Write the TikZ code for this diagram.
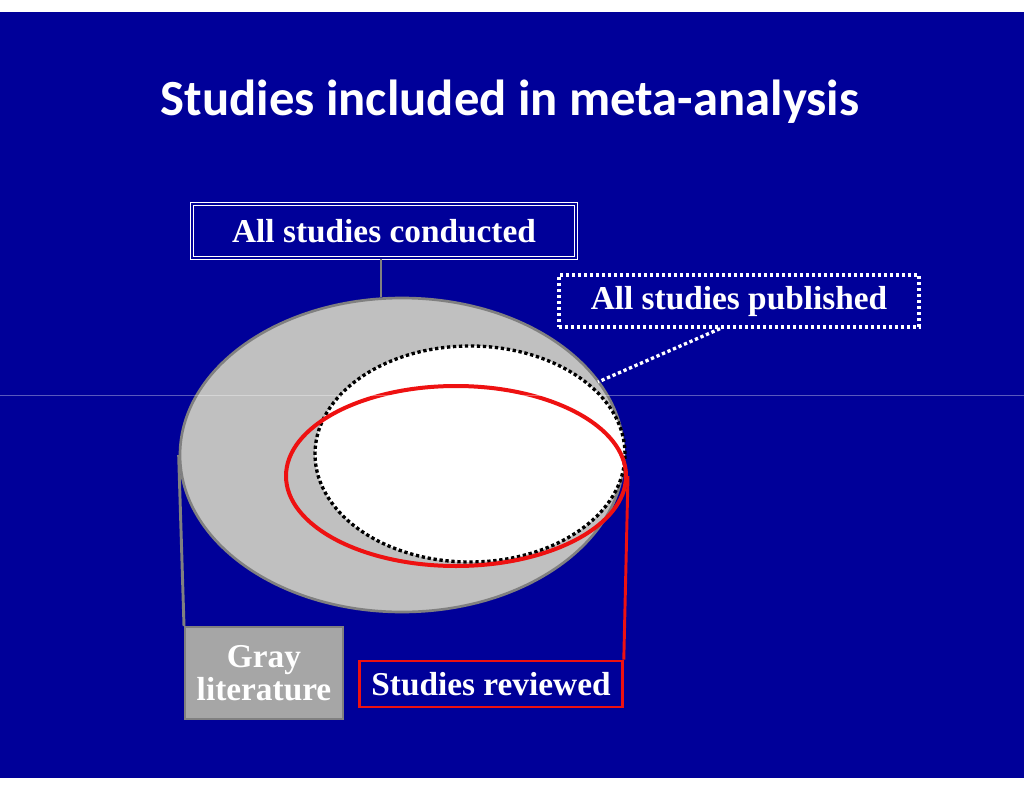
\documentclass[tikz,border=0pt]{standalone}
\usepackage{fontspec}
\setmainfont{Liberation Serif}
\newfontfamily\titlefont{Carlito}
\usetikzlibrary{shapes.geometric}
\definecolor{slideblue}{HTML}{000099}
\definecolor{lightgray}{HTML}{C0C0C0}
\definecolor{midgray}{HTML}{808080}
\definecolor{boxgray}{HTML}{A6A6A6}
\definecolor{redline}{HTML}{EE1111}
\begin{document}
\begin{tikzpicture}[
        x=0.75pt, y=-0.75pt,
        font=\bfseries\fontsize{25}{27}\selectfont
    ]
    \tikzset{
        labelbox/.style = {draw, align=center, text=white, inner sep=0pt},
        setellipse/.style = {ellipse, inner sep=0pt},
        linkgray/.style = {midgray, line width=2.2pt},
        linkred/.style = {redline, line width=2.2pt},
    }
    \useasboundingbox (0,0) rectangle (1024,792);
    \fill[slideblue] (0,12) rectangle (1024,778);
    \node[text=white, font=\titlefont\bfseries\fontsize{38}{42}\selectfont] (title) at (510,102) {Studies included in meta-analysis};
    %
    \node[setellipse, fill=lightgray, draw=midgray, line width=2pt, minimum width=333pt, minimum height=235.5pt] (all) at (402,455) {};
    \node[setellipse, fill=white, draw=black, dotted, line width=2.5pt, minimum width=232.5pt, minimum height=162pt] (pub) at (470,454) {};
    \node[setellipse, draw=redline, line width=3pt, minimum width=255pt, minimum height=135pt] (rev) at (456,476) {};
    %
    \node[labelbox, draw=white, double=slideblue, double distance=1pt, line width=1.2pt, minimum width=288pt, minimum height=40.5pt] (conducted) at (384,231) {All studies conducted};
    \node[labelbox, draw=white, dotted, line width=2.5pt, minimum width=270pt, minimum height=39pt] (published) at (739,301) {All studies published};
    \node[labelbox, fill=boxgray, draw=midgray, line width=1.5pt, minimum width=118.5pt, minimum height=69pt] (gray) at (264,673) {Gray\\[-2pt]literature};
    \node[labelbox, draw=redline, line width=2.2pt, minimum width=197pt, minimum height=34.5pt] (reviewed) at (491,684) {Studies reviewed};
    %
    \coordinate (pubtip) at (598,382);
    \draw[linkgray] (conducted.south -| 381,0) -- (all.north -| 381,0);
    \draw[white, dotted, line width=2.5pt] (published.south) ++(-19,0) -- (pubtip);
    \draw[linkgray] (all.west) -- (gray.north west);
    \draw[linkred] (rev.east) -- (reviewed.north east);
    %
    \draw[white, opacity=0.35, line width=0.4pt] (0,395) -- (1024,395);
\end{tikzpicture}
\end{document}
